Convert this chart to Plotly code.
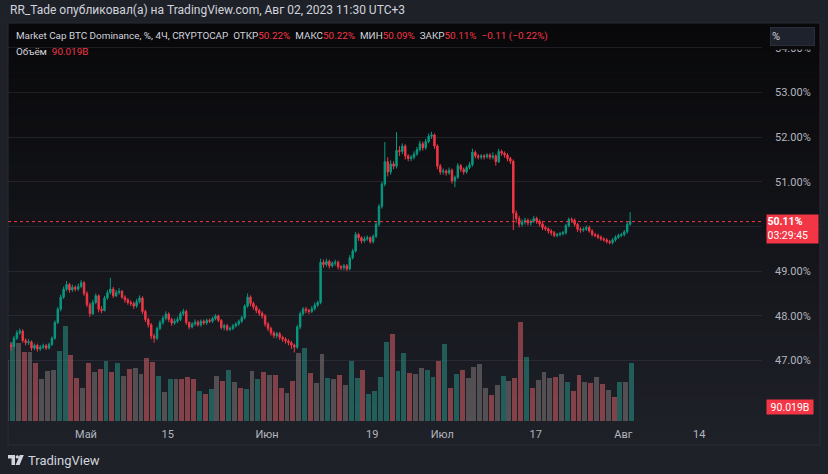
import plotly.graph_objects as go
import pandas as pd

# ---------------- data ----------------
candle_start = "2023-04-18 00:00"   # 12h candles
open_first = 47.35
close = [
    47.32, 47.50, 47.62, 47.66, 47.45, 47.40, 47.42, 47.28, 47.34, 47.26,
    47.30, 47.33, 47.28, 47.36, 47.50, 47.85, 48.15, 48.42, 48.60, 48.70,
    48.58, 48.64, 48.60, 48.66, 48.74, 48.50, 48.25, 48.05, 48.30, 48.45,
    48.15, 48.12, 48.40, 48.52, 48.60, 48.45, 48.52, 48.55, 48.42, 48.36,
    48.30, 48.28, 48.22, 48.32, 48.40, 48.10, 47.92, 47.80, 47.55, 47.50,
    47.72, 47.85, 47.95, 48.04, 47.92, 47.84, 47.88, 47.92, 48.05, 48.10,
    47.85, 47.75, 47.82, 47.86, 47.80, 47.88, 47.84, 47.90, 47.88, 47.94,
    48.00, 47.90, 47.74, 47.78, 47.70, 47.72, 47.78, 47.82, 47.88, 47.96,
    48.22, 48.42, 48.28, 48.20, 48.12, 48.06, 48.00, 47.82, 47.72, 47.62,
    47.56, 47.60, 47.52, 47.48, 47.44, 47.40, 47.35, 47.30, 47.75, 48.05,
    48.15, 48.12, 48.10, 48.16, 48.24, 48.30, 49.20, 49.15, 49.22, 49.12,
    49.18, 49.20, 49.10, 49.08, 49.12, 49.05, 49.30, 49.45, 49.82, 49.75,
    49.68, 49.72, 49.75, 49.66, 49.78, 50.05, 50.45, 50.95, 51.45, 51.22,
    51.40, 51.35, 51.70, 51.68, 51.80, 51.58, 51.52, 51.55, 51.62, 51.72,
    51.85, 51.76, 51.90, 52.02, 52.05, 51.80, 51.35, 51.22, 51.24, 51.20,
    51.26, 51.02, 51.10, 51.36, 51.28, 51.22, 51.32, 51.38, 51.66, 51.58,
    51.55, 51.58, 51.56, 51.60, 51.55, 51.58, 51.45, 51.68, 51.64, 51.60,
    51.52, 51.46, 50.30, 50.18, 50.05, 50.10, 50.14, 50.08, 50.12, 50.18,
    50.12, 50.06, 49.98, 49.95, 49.90, 49.86, 49.80, 49.82, 49.84, 49.86,
    50.02, 50.16, 50.14, 50.05, 49.94, 49.92, 49.94, 49.98, 49.90, 49.82,
    49.80, 49.76, 49.72, 49.70, 49.66, 49.64, 49.70, 49.76, 49.80, 49.82,
    49.88, 50.05, 50.11]
high = [
    47.40, 47.55, 47.68, 47.72, 47.70, 47.50, 47.48, 47.45, 47.38, 47.38,
    47.35, 47.38, 47.37, 47.40, 47.54, 47.90, 48.20, 48.48, 48.66, 48.78,
    48.74, 48.70, 48.68, 48.72, 48.80, 48.78, 48.55, 48.30, 48.36, 48.50,
    48.48, 48.22, 48.45, 48.58, 48.85, 48.65, 48.58, 48.62, 48.58, 48.46,
    48.40, 48.35, 48.32, 48.38, 48.46, 48.44, 48.14, 47.96, 47.84, 47.60,
    47.76, 47.90, 48.00, 48.10, 48.08, 47.96, 47.94, 47.98, 48.10, 48.16,
    48.14, 47.88, 47.86, 47.92, 47.90, 47.92, 47.92, 47.94, 47.94, 47.98,
    48.04, 48.03, 47.93, 47.82, 47.82, 47.76, 47.82, 47.86, 47.92, 48.00,
    48.26, 48.50, 48.46, 48.32, 48.24, 48.16, 48.10, 48.04, 47.86, 47.76,
    47.66, 47.64, 47.64, 47.56, 47.52, 47.48, 47.44, 47.38, 47.80, 48.10,
    48.20, 48.20, 48.16, 48.22, 48.30, 48.34, 49.28, 49.26, 49.28, 49.26,
    49.22, 49.26, 49.24, 49.14, 49.16, 49.16, 49.36, 49.50, 49.88, 49.86,
    49.78, 49.78, 49.80, 49.78, 49.82, 50.10, 50.50, 51.00, 51.89, 51.55,
    51.48, 51.46, 52.11, 51.80, 51.86, 51.84, 51.62, 51.60, 51.68, 51.78,
    51.92, 51.90, 51.96, 52.08, 52.12, 52.08, 51.84, 51.40, 51.30, 51.28,
    51.32, 51.30, 51.14, 51.42, 51.40, 51.32, 51.36, 51.44, 51.74, 51.70,
    51.62, 51.62, 51.62, 51.64, 51.64, 51.66, 51.62, 51.74, 51.72, 51.68,
    51.64, 51.56, 51.50, 50.36, 50.24, 50.16, 50.20, 50.18, 50.16, 50.24,
    50.22, 50.16, 50.10, 50.02, 49.98, 49.94, 49.90, 49.86, 49.88, 49.90,
    50.06, 50.20, 50.20, 50.18, 50.08, 49.98, 49.98, 50.02, 50.02, 49.94,
    49.86, 49.84, 49.80, 49.76, 49.74, 49.70, 49.74, 49.80, 49.84, 49.86,
    49.92, 50.10, 50.32]
low = [
    47.22, 47.28, 47.46, 47.58, 47.40, 47.34, 47.35, 47.22, 47.24, 47.20,
    47.22, 47.26, 47.24, 47.25, 47.33, 47.47, 47.82, 48.10, 48.38, 48.55,
    48.52, 48.54, 48.55, 48.56, 48.62, 48.45, 48.20, 47.98, 48.02, 48.26,
    48.08, 48.06, 48.10, 48.36, 48.48, 48.40, 48.42, 48.48, 48.38, 48.30,
    48.25, 48.22, 48.16, 48.18, 48.28, 48.04, 47.86, 47.74, 47.48, 47.40,
    47.46, 47.68, 47.80, 47.90, 47.86, 47.78, 47.80, 47.84, 47.88, 48.00,
    47.80, 47.70, 47.72, 47.78, 47.76, 47.76, 47.80, 47.80, 47.84, 47.84,
    47.90, 47.86, 47.70, 47.68, 47.66, 47.66, 47.68, 47.74, 47.78, 47.84,
    47.92, 48.18, 48.22, 48.14, 48.06, 48.00, 47.94, 47.76, 47.66, 47.56,
    47.50, 47.50, 47.46, 47.42, 47.38, 47.34, 47.26, 47.18, 47.26, 47.70,
    48.00, 48.06, 48.04, 48.06, 48.12, 48.20, 48.26, 49.08, 49.10, 49.06,
    49.08, 49.12, 49.04, 49.02, 49.02, 49.00, 49.02, 49.26, 49.42, 49.68,
    49.62, 49.64, 49.68, 49.62, 49.62, 49.74, 50.00, 50.40, 50.90, 51.12,
    51.16, 51.28, 51.30, 51.58, 51.62, 51.50, 51.46, 51.46, 51.50, 51.58,
    51.68, 51.70, 51.72, 51.86, 51.96, 51.74, 51.28, 51.16, 51.16, 51.14,
    51.16, 50.96, 50.88, 51.06, 51.22, 51.16, 51.18, 51.28, 51.34, 51.52,
    51.50, 51.50, 51.50, 51.52, 51.50, 51.50, 51.36, 51.42, 51.58, 51.54,
    51.46, 51.40, 49.92, 50.08, 49.98, 50.00, 50.04, 50.02, 50.02, 50.08,
    50.06, 50.00, 49.92, 49.90, 49.84, 49.80, 49.76, 49.76, 49.78, 49.80,
    49.82, 49.98, 50.08, 50.00, 49.88, 49.86, 49.88, 49.90, 49.86, 49.78,
    49.76, 49.72, 49.68, 49.66, 49.62, 49.60, 49.60, 49.66, 49.72, 49.76,
    49.78, 49.84, 50.02]

vol_start = "2023-04-17"   # daily volume blocks
volume_b = [
    61, 79, 78, 69, 69, 58, 42, 50, 51, 70, 95, 66, 43, 33, 58, 49, 52, 60, 49, 58,
    45, 52, 53, 47, 63, 59, 45, 29, 42, 42, 42, 44, 42, 30, 27, 32, 45,
    40, 51, 39, 33, 32, 50, 42, 49, 46, 46, 33, 28, 40, 68, 73, 48, 38, 67, 43, 42,
    46, 36, 60, 43, 51, 27, 30, 44, 79, 87, 50, 68, 48, 47, 53, 51, 44, 60,
    77, 33, 47, 51, 43, 54, 57, 33, 26, 36, 45, 40, 43, 99, 64, 33, 41, 49, 43, 44,
    47, 39, 30, 46, 39, 38, 44, 37, 31, 24, 39, 39, 58]
volume_dir = ("gtgrgrgggttrrgrgrtrtgrggrrtgtgrrrtrtg"
              "rtgrtgtrgrrgrgtrggtgrgttrttttrttrggttr"
              "trtrggggrgtgrrtrgggrgtrrgrgrgrtgt")

price_tickvals = [47, 48, 49, 50, 51, 52, 53, 54]
# the 50.00% label is hidden behind the last-price marker in the original
price_ticktext = ["47.00%", "48.00%", "49.00%", "", "51.00%", "52.00%", "53.00%", "54.00%"]
time_tickvals = ["2023-05-01", "2023-05-15", "2023-06-01", "2023-06-19",
                 "2023-07-01", "2023-07-17", "2023-08-01", "2023-08-14"]
time_ticktext = ["Май", "15", "Июн", "19", "Июл", "17", "Авг", "14"]

last_open, last_high, last_low, last_close = "50.22%", "50.22%", "50.09%", "50.11%"
last_change = "−0.11 (−0.22%)"
last_price = 50.11
last_volume = "90.019B"
countdown = "03:29:45"
header = "RR_Tade опубликовал(а) на TradingView.com, Авг 02, 2023 11:30 UTC+3"
title = "Market Cap BTC Dominance, %, 4Ч, CRYPTOCAP"

# ---------------- layout helpers ----------------
W, H = 828, 474
L, R, T, B = 8, 66, 23, 53
PW, PH = W - L - R, H - T - B


def px(xp):
    return (xp - L) / PW


def py(yp):
    return (T + PH - yp) / PH


UP, DOWN = "#089981", "#f23645"
TXT = "#d1d4dc"
AX = "#b2b5be"
FONT = "Roboto, 'Noto Sans', sans-serif"

opens = [open_first] + close[:-1]
t_candle = pd.date_range(candle_start, periods=len(close), freq="12h") + pd.Timedelta(hours=4)
t_vol = pd.date_range(vol_start, periods=len(volume_b), freq="D") + pd.Timedelta(hours=10)
vcol = {"t": "rgba(40,140,128,0.58)", "r": "rgba(205,92,98,0.58)", "g": "rgba(135,124,124,0.52)"}
vol_colors = [vcol[c] for c in volume_dir]

fig = go.Figure()
fig.add_trace(go.Bar(
    x=t_vol, y=volume_b, marker=dict(color=vol_colors, line_width=0),
    width=0.84 * 86400000, xaxis="x", yaxis="y", hoverinfo="skip", showlegend=False))
fig.add_trace(go.Candlestick(
    x=t_candle, open=opens, high=high, low=low, close=close,
    increasing=dict(line=dict(color=UP, width=1), fillcolor=UP),
    decreasing=dict(line=dict(color=DOWN, width=1), fillcolor=DOWN),
    whiskerwidth=0, xaxis="x", yaxis="y2", hoverinfo="skip", showlegend=False))

shapes = []
# gradient pane background
top_rgb, bot_rgb = (8, 8, 10), (31, 33, 41)
n = 60
y_a, y_b = 23, 445
for i in range(n):
    y0 = y_a + (y_b - y_a) * i / n
    y1 = y_a + (y_b - y_a) * (i + 1) / n
    f = (i + 0.5) / n
    col = tuple(round(a + (b - a) * f) for a, b in zip(top_rgb, bot_rgb))
    shapes.append(dict(type="rect", xref="paper", yref="paper",
                       x0=px(8), x1=px(820), y0=py(y1 + 0.6), y1=py(y0),
                       fillcolor="rgb(%d,%d,%d)" % col, line_width=0, layer="below"))
# pane border
shapes.append(dict(type="rect", xref="paper", yref="paper", x0=px(8), x1=px(820),
                   y0=py(445), y1=py(23), line=dict(color="#2a2d36", width=1),
                   fillcolor="rgba(0,0,0,0)", layer="above"))
# last price dotted line
shapes.append(dict(type="line", xref="paper", yref="y2", x0=0, x1=1,
                   y0=last_price, y1=last_price, line=dict(color=DOWN, width=1, dash="dot"),
                   layer="above"))
# TradingView logo glyph
logo = "#d1d4dc"
shapes.append(dict(type="rect", xref="paper", yref="paper", x0=px(8), x1=px(15),
                   y0=py(458.5), y1=py(455), fillcolor=logo, line_width=0, layer="above"))
shapes.append(dict(type="rect", xref="paper", yref="paper", x0=px(11.5), x1=px(15),
                   y0=py(465), y1=py(455), fillcolor=logo, line_width=0, layer="above"))
shapes.append(dict(type="circle", xref="paper", yref="paper", x0=px(15.6), x1=px(19),
                   y0=py(458.6), y1=py(455.2), fillcolor=logo, line_width=0, layer="above"))
shapes.append(dict(type="path", xref="paper", yref="paper",
                   path="M %f,%f L %f,%f L %f,%f L %f,%f Z" % (
                       px(19.8), py(455), px(23.8), py(455), px(19.6), py(465), px(15.6), py(465)),
                   fillcolor=logo, line_width=0, layer="above"))

red = DOWN
sp = "&nbsp;&nbsp;"
legend1 = (f"<span style='color:{TXT}'>{title}{sp}"
           f"ОТКР<span style='color:{red}'>{last_open}</span>{sp}"
           f"МАКС<span style='color:{red}'>{last_high}</span>{sp}"
           f"МИН<span style='color:{red}'>{last_low}</span>{sp}"
           f"ЗАКР<span style='color:{red}'>{last_close}</span>{sp}"
           f"<span style='color:{red}'>{last_change}</span></span>")
legend2 = f"<span style='color:{TXT}'>Объём</span>{sp}<span style='color:{red}'>{last_volume}</span>"

annotations = [
    dict(text=header, x=px(8), y=py(10.5), xanchor="left", yanchor="middle",
         font=dict(color=TXT, size=12, family=FONT)),
    dict(text=legend1, x=px(14), y=py(36), xanchor="left", yanchor="middle",
         font=dict(color=TXT, size=9.9, family=FONT)),
    dict(text=legend2, x=px(14), y=py(51.5), xanchor="left", yanchor="middle",
         font=dict(color=TXT, size=9.9, family=FONT)),
    # last price label: two stacked red cells
    dict(text=f"<b>{last_close}</b>", x=px(766), y=py(214), xanchor="left",
         yanchor="top", bgcolor=red, width=50, height=12.5, borderpad=0.5, align="left",
         font=dict(color="#ffffff", size=10.5, family=FONT)),
    dict(text=countdown, x=px(766), y=py(227.5), xanchor="left",
         yanchor="top", bgcolor=red, width=50, height=12.5, borderpad=0.5, align="left",
         font=dict(color="#ffffff", size=10.5, family=FONT)),
    dict(text=last_volume, x=px(766), y=py(399), xanchor="left", yanchor="top",
         bgcolor=red, width=43, height=11, borderpad=1.5, align="center",
         font=dict(color="#ffffff", size=10.5, family=FONT)),
    # partial cover of the 54% tick label (it sits under the toolbar in the original)
    dict(text=" ", x=px(768), y=py(44), xanchor="left", yanchor="top",
         bgcolor="rgb(10,10,12)", width=50, height=4, borderpad=0,
         font=dict(size=2)),
    # "%" button
    dict(text="%", x=px(770), y=py(27), xanchor="left", yanchor="top",
         bgcolor="#1e222d", bordercolor="#2a2e39", borderwidth=1, borderpad=1,
         width=41, height=15, align="left",
         font=dict(color=TXT, size=11, family=FONT)),
    dict(text="TradingView", x=px(26), y=py(460), xanchor="left", yanchor="middle",
         font=dict(color=TXT, size=13, family=FONT)),
]
for a in annotations:
    a.update(xref="paper", yref="paper", showarrow=False)

fig.update_layout(
    width=W, height=H,
    margin=dict(l=L, r=R, t=T, b=B, pad=0),
    paper_bgcolor="#1f2129",
    plot_bgcolor="rgba(0,0,0,0)",
    font=dict(family=FONT, color=AX, size=11),
    showlegend=False,
    bargap=0,
    shapes=shapes,
    annotations=annotations,
    xaxis=dict(type="date", range=["2023-04-17 15:27", "2023-08-24 18:00"],
               tickvals=time_tickvals, ticktext=time_ticktext, showgrid=False,
               zeroline=False, showline=False, ticks="", ticklabelstandoff=5,
               tickfont=dict(color=AX, size=11, family=FONT),
               rangeslider=dict(visible=False), fixedrange=True),
    yaxis=dict(range=[0, PH], visible=False, fixedrange=True),
    yaxis2=dict(overlaying="y", side="right", range=[45.649, 54.553],
                tickvals=price_tickvals, ticktext=price_ticktext,
                showgrid=True, gridcolor="rgba(70,74,88,0.32)", gridwidth=1,
                zeroline=False, showline=False, ticks="", ticklabelstandoff=12,
                tickfont=dict(color=AX, size=11, family=FONT), fixedrange=True),
)

fig.write_html("out.html")
